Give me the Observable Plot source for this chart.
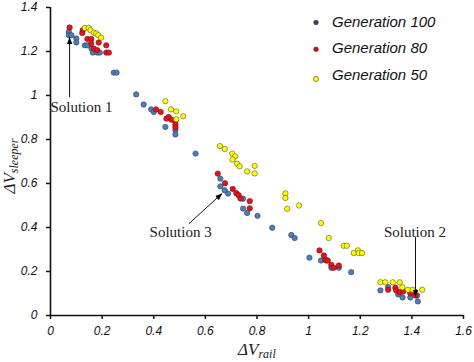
<!DOCTYPE html>
<html><head><meta charset="utf-8">
<script src="https://cdn.jsdelivr.net/npm/d3@7"></script>
<script src="https://cdn.jsdelivr.net/npm/@observablehq/plot@0.6"></script>
<style>body{margin:0;background:#fff}</style>
</head><body><div id="chart"></div>
<script>
const gen100X = [0.071,0.071,0.081,0.100,0.100,0.133,0.144,0.159,0.164,0.181,0.191,0.245,0.256,0.332,0.361,0.390,0.400,0.445,0.484,0.484,0.562,0.658,0.658,0.675,0.688,0.746,0.746,0.762,0.802,0.859,0.933,0.946,1.003,1.048,1.068,1.088,1.117,1.165,1.278,1.308,1.347,1.364,1.394,1.420,1.423];
const gen100Y = [1.289,1.274,1.274,1.259,1.241,1.228,1.228,1.213,1.195,1.195,1.195,1.104,1.104,1.005,0.959,0.937,0.925,0.857,0.842,0.823,0.736,0.622,0.587,0.569,0.554,0.531,0.486,0.466,0.453,0.399,0.366,0.352,0.263,0.250,0.250,0.217,0.217,0.197,0.114,0.129,0.096,0.082,0.082,0.091,0.064];
const gen80X = [0.074,0.125,0.123,0.143,0.158,0.158,0.187,0.168,0.181,0.216,0.216,0.226,0.409,0.427,0.449,0.458,0.469,0.484,0.484,0.484,0.648,0.676,0.706,0.720,0.729,0.736,0.772,0.772,1.042,1.059,1.065,1.074,1.088,1.097,1.117,1.308,1.336,1.339,1.353,1.366,1.394,1.410,1.414];
const gen80Y = [1.309,1.297,1.284,1.257,1.257,1.236,1.241,1.213,1.206,1.228,1.195,1.195,0.937,0.925,0.895,0.902,0.890,0.883,0.868,0.855,0.645,0.601,0.575,0.556,0.547,0.532,0.520,0.487,0.296,0.273,0.253,0.250,0.230,0.217,0.227,0.117,0.126,0.114,0.106,0.109,0.101,0.109,0.091];
const gen50X = [0.133,0.148,0.155,0.168,0.177,0.185,0.196,0.445,0.467,0.487,0.487,0.514,0.656,0.675,0.704,0.715,0.705,0.723,0.733,0.762,0.791,0.791,0.910,0.910,0.917,0.963,1.048,1.078,1.136,1.148,1.175,1.191,1.194,1.207,1.278,1.297,1.326,1.353,1.363,1.385,1.403,1.440];
const gen50Y = [1.307,1.307,1.297,1.286,1.282,1.274,1.263,0.974,0.937,0.928,0.892,0.906,0.770,0.757,0.736,0.723,0.709,0.690,0.678,0.655,0.680,0.646,0.555,0.534,0.485,0.500,0.420,0.352,0.317,0.317,0.284,0.296,0.284,0.284,0.151,0.151,0.151,0.151,0.128,0.117,0.117,0.117];

const seriesNames = ["Generation 100", "Generation 80", "Generation 50"];
const xTicks = [0, 0.2, 0.4, 0.6, 0.8, 1, 1.2, 1.4, 1.6];
const yTicks = [0, 0.2, 0.4, 0.6, 0.8, 1, 1.2, 1.4];

const solutionLabels = ["Solution 1", "Solution 2", "Solution 3"];
const solutionTextX = [0.120, 1.412, 0.504];
const solutionTextY = [0.948, 0.379, 0.379];
const arrowFromX = [0.074, 1.414, 0.536];
const arrowFromY = [0.992, 0.356, 0.417];
const arrowToX = [0.074, 1.414, 0.665];
const arrowToY = [1.265, 0.086, 0.555];

const pts = (xs, ys) => xs.map((x, i) => ({x, y: ys[i]}));
const p100 = pts(gen100X, gen100Y);
const p80 = pts(gen80X, gen80Y);
const p50 = pts(gen50X, gen50Y);
const sols = solutionLabels.map((t, i) => ({t, x: solutionTextX[i], y: solutionTextY[i]}));
const arrows = solutionLabels.map((t, i) => ({x1: arrowFromX[i], y1: arrowFromY[i], x2: arrowToX[i], y2: arrowToY[i]}));

const chart = Plot.plot({
  width: 474, height: 362,
  marginLeft: 50, marginRight: 11, marginTop: 7, marginBottom: 47,
  x: {domain: [0, 1.6]},
  y: {domain: [0, 1.4]},
  style: {fontFamily: "Liberation Sans", fontSize: "12px", color: "#111", background: "#fff"},
  marks: [
    Plot.axisX(xTicks, {tickSize: 4, tickPadding: 7, strokeWidth: 1.5, label: null, fontStyle: "italic", tickFormat: d => String(d)}),
    Plot.axisY(yTicks, {tickSize: 4, tickPadding: 9, strokeWidth: 1.5, label: null, fontStyle: "italic", tickFormat: d => String(d)}),
    Plot.ruleX([0], {stroke: "#111", strokeWidth: 1.6}),
    Plot.ruleY([0], {stroke: "#111", strokeWidth: 1.6}),
    Plot.dot(p100, {x: "x", y: "y", r: 2.7, fill: "#4f7db5", stroke: "#2a4466", strokeWidth: 0.6}),
    Plot.dot(p80, {x: "x", y: "y", r: 2.7, fill: "#e3141e", stroke: "#7a0a0a", strokeWidth: 0.6}),
    Plot.dot(p50, {x: "x", y: "y", r: 2.7, fill: "#ffff00", stroke: "#5a5a20", strokeWidth: 0.6}),
    Plot.link(arrows, {x1: "x1", y1: "y1", x2: "x2", y2: "y2", stroke: "#111", strokeWidth: 1}),
    Plot.text(sols, {x: "x", y: "y", text: "t", fontFamily: "Liberation Serif", fontSize: 15, fill: "#222"})
  ]
});
document.getElementById("chart").append(chart);

const svg = d3.select(chart);
const defs = svg.append("defs");
defs.append("marker").attr("id", "ah").attr("viewBox", "0 -5 10 10").attr("refX", 10).attr("refY", 0)
  .attr("markerWidth", 7).attr("markerHeight", 7).attr("markerUnits", "userSpaceOnUse").attr("orient", "auto")
  .append("path").attr("d", "M0,-4L10,0L0,4Z").attr("fill", "#000");
svg.selectAll('g[aria-label="link"] path').attr("marker-end", "url(#ah)");

// axis titles
const yl = svg.append("text").attr("transform", "translate(15,166) rotate(-90)").attr("text-anchor", "middle")
  .attr("font-family", "Liberation Serif").attr("font-style", "italic").attr("font-size", 17).attr("fill", "#222");
yl.append("tspan").text("ΔV");
yl.append("tspan").attr("font-size", 12).attr("dy", 3).text("sleeper");
const xl = svg.append("text").attr("x", 238).attr("y", 355).attr("text-anchor", "start")
  .attr("font-family", "Liberation Serif").attr("font-style", "italic").attr("font-size", 17).attr("fill", "#222");
xl.append("tspan").text("ΔV");
xl.append("tspan").attr("font-size", 12).attr("dy", 3).text("rail");

// legend
const legColors = [["#34476a", "#1e2a40", 2.3, 22.5], ["#c8142a", "#6a0a14", 2.3, 49.3], ["#ffff00", "#4a4a20", 2.6, 79]];
const legBase = [26.7, 53.3, 80];
seriesNames.forEach((name, i) => {
  svg.append("circle").attr("cx", 316).attr("cy", legColors[i][3]).attr("r", legColors[i][2])
    .attr("fill", legColors[i][0]).attr("stroke", legColors[i][1]).attr("stroke-width", 0.6);
  svg.append("text").attr("x", 332).attr("y", legBase[i]).attr("text-anchor", "start").attr("font-family", "Liberation Sans")
    .attr("font-style", "italic").attr("font-size", 15).attr("fill", "#111").text(name);
});
</script>
</body></html>
